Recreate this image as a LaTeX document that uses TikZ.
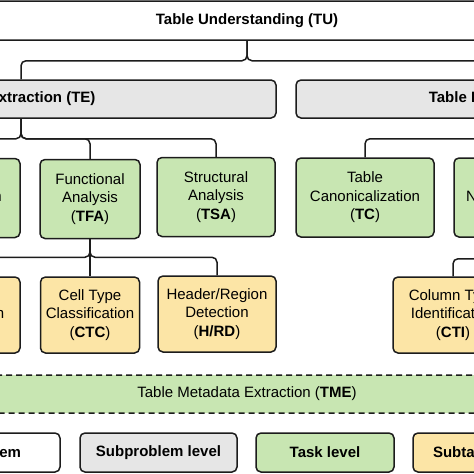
\documentclass[tikz,border=0pt]{standalone}
\usepackage{fontspec}
\setmainfont{Liberation Sans}
\usetikzlibrary{positioning}
\definecolor{Frame}{HTML}{1C1C1C}
\definecolor{Light}{HTML}{E6E6E6}
\definecolor{Leaf}{HTML}{C8E6B2}
\definecolor{Sand}{HTML}{FCE5A6}
\tikzset{
 box/.style={draw=Frame,line width=1.5pt,rounded corners=5pt,align=center,inner sep=2pt,
  font=\fontsize{15}{18.5}\selectfont},
 head/.style={box,font=\fontsize{15}{18.5}\selectfont\bfseries},
 task/.style={box,fill=Leaf,minimum height=79pt},
 subtask/.style={box,fill=Sand,minimum height=76pt},
 band/.style={box,fill=Leaf,dash pattern=on 6pt off 4pt,minimum height=38pt},
 link/.style={draw=Frame,line width=1.5pt,rounded corners=5pt},
}

\begin{document}
\begin{tikzpicture}[x=1pt,y=-1pt]
\useasboundingbox (0,0) rectangle (474,474);
\clip (0,0) rectangle (474,474);
% problem and subproblems
\node[head,fill=white,minimum width=600pt,minimum height=39pt] (tu) at (247,20.5) {Table Understanding (TU)};
\node[head,fill=Light,minimum width=510pt,minimum height=38pt] (te) at (21,99) {Table Extraction (TE)};
\node[head,fill=Light,minimum width=432pt,minimum height=38pt] (ti) at (512,99) {Table Interpretation (TI)};
% tasks
\node[task,minimum width=100pt] (td) at (-30,198) {Table\\Detection\\(\textbf{TD})};
\node[task,minimum width=100pt] (tfa) at (90,199) {Functional\\Analysis\\(\textbf{TFA})};
\node[task,minimum width=118pt] (tsa) at (216,197) {Structural\\Analysis\\(\textbf{TSA})};
\node[task,minimum width=138pt] (tc) at (365,197.5) {Table\\Canonicalization\\(\textbf{TC})};
\node[task,minimum width=116pt] (tn) at (512,197.5) {Table\\Normalization\\(\textbf{TN})};
% subtasks
\node[subtask,minimum width=120pt] (ttc) at (-40,315) {Table Type\\Classification\\(\textbf{TTC})};
\node[subtask,minimum width=99pt] (ctc) at (90,315) {Cell Type\\Classification\\(\textbf{CTC})};
\node[subtask,minimum width=118pt] (hrd) at (217,314) {Header/Region\\Detection\\(\textbf{H/RD})};
\node[subtask,minimum width=120pt] (cti) at (453,315) {Column Type\\Identification\\(\textbf{CTI})};
\node[band,minimum width=600pt] (tme) at (247,394) {Table Metadata Extraction (\textbf{TME})};
% legend
\foreach \n/\c/\t/\x/\w in {prob/white/Problem/-9/138,sub/Light/Subproblem level/158.5/157,
 task/Leaf/Task level/325/138,subt/Sand/Subtask level/481/136}{
 \node[head,fill=\c,minimum width=\w pt,minimum height=39pt] (key-\n) at (\x,452.5) {\t};
}
% connectors
\draw[link] (tu.south) -- ++(0,20) -| (te.north);
\draw[link] (tu.south) -- ++(0,20) -| (ti.north);
\foreach \c in {td,tfa,tsa} \draw[link] (te.south) -- ++(0,20) -| (\c.north);
\foreach \c in {tc,tn} \draw[link] (ti.south) -- ++(0,20) -| (\c.north);
\foreach \c in {ttc,ctc,hrd} \draw[link] (tfa.south) -- ++(0,18) -| (\c.north);
\draw[link] (tn.south) -- ++(0,21) -| (cti.north);
\end{tikzpicture}
\end{document}
